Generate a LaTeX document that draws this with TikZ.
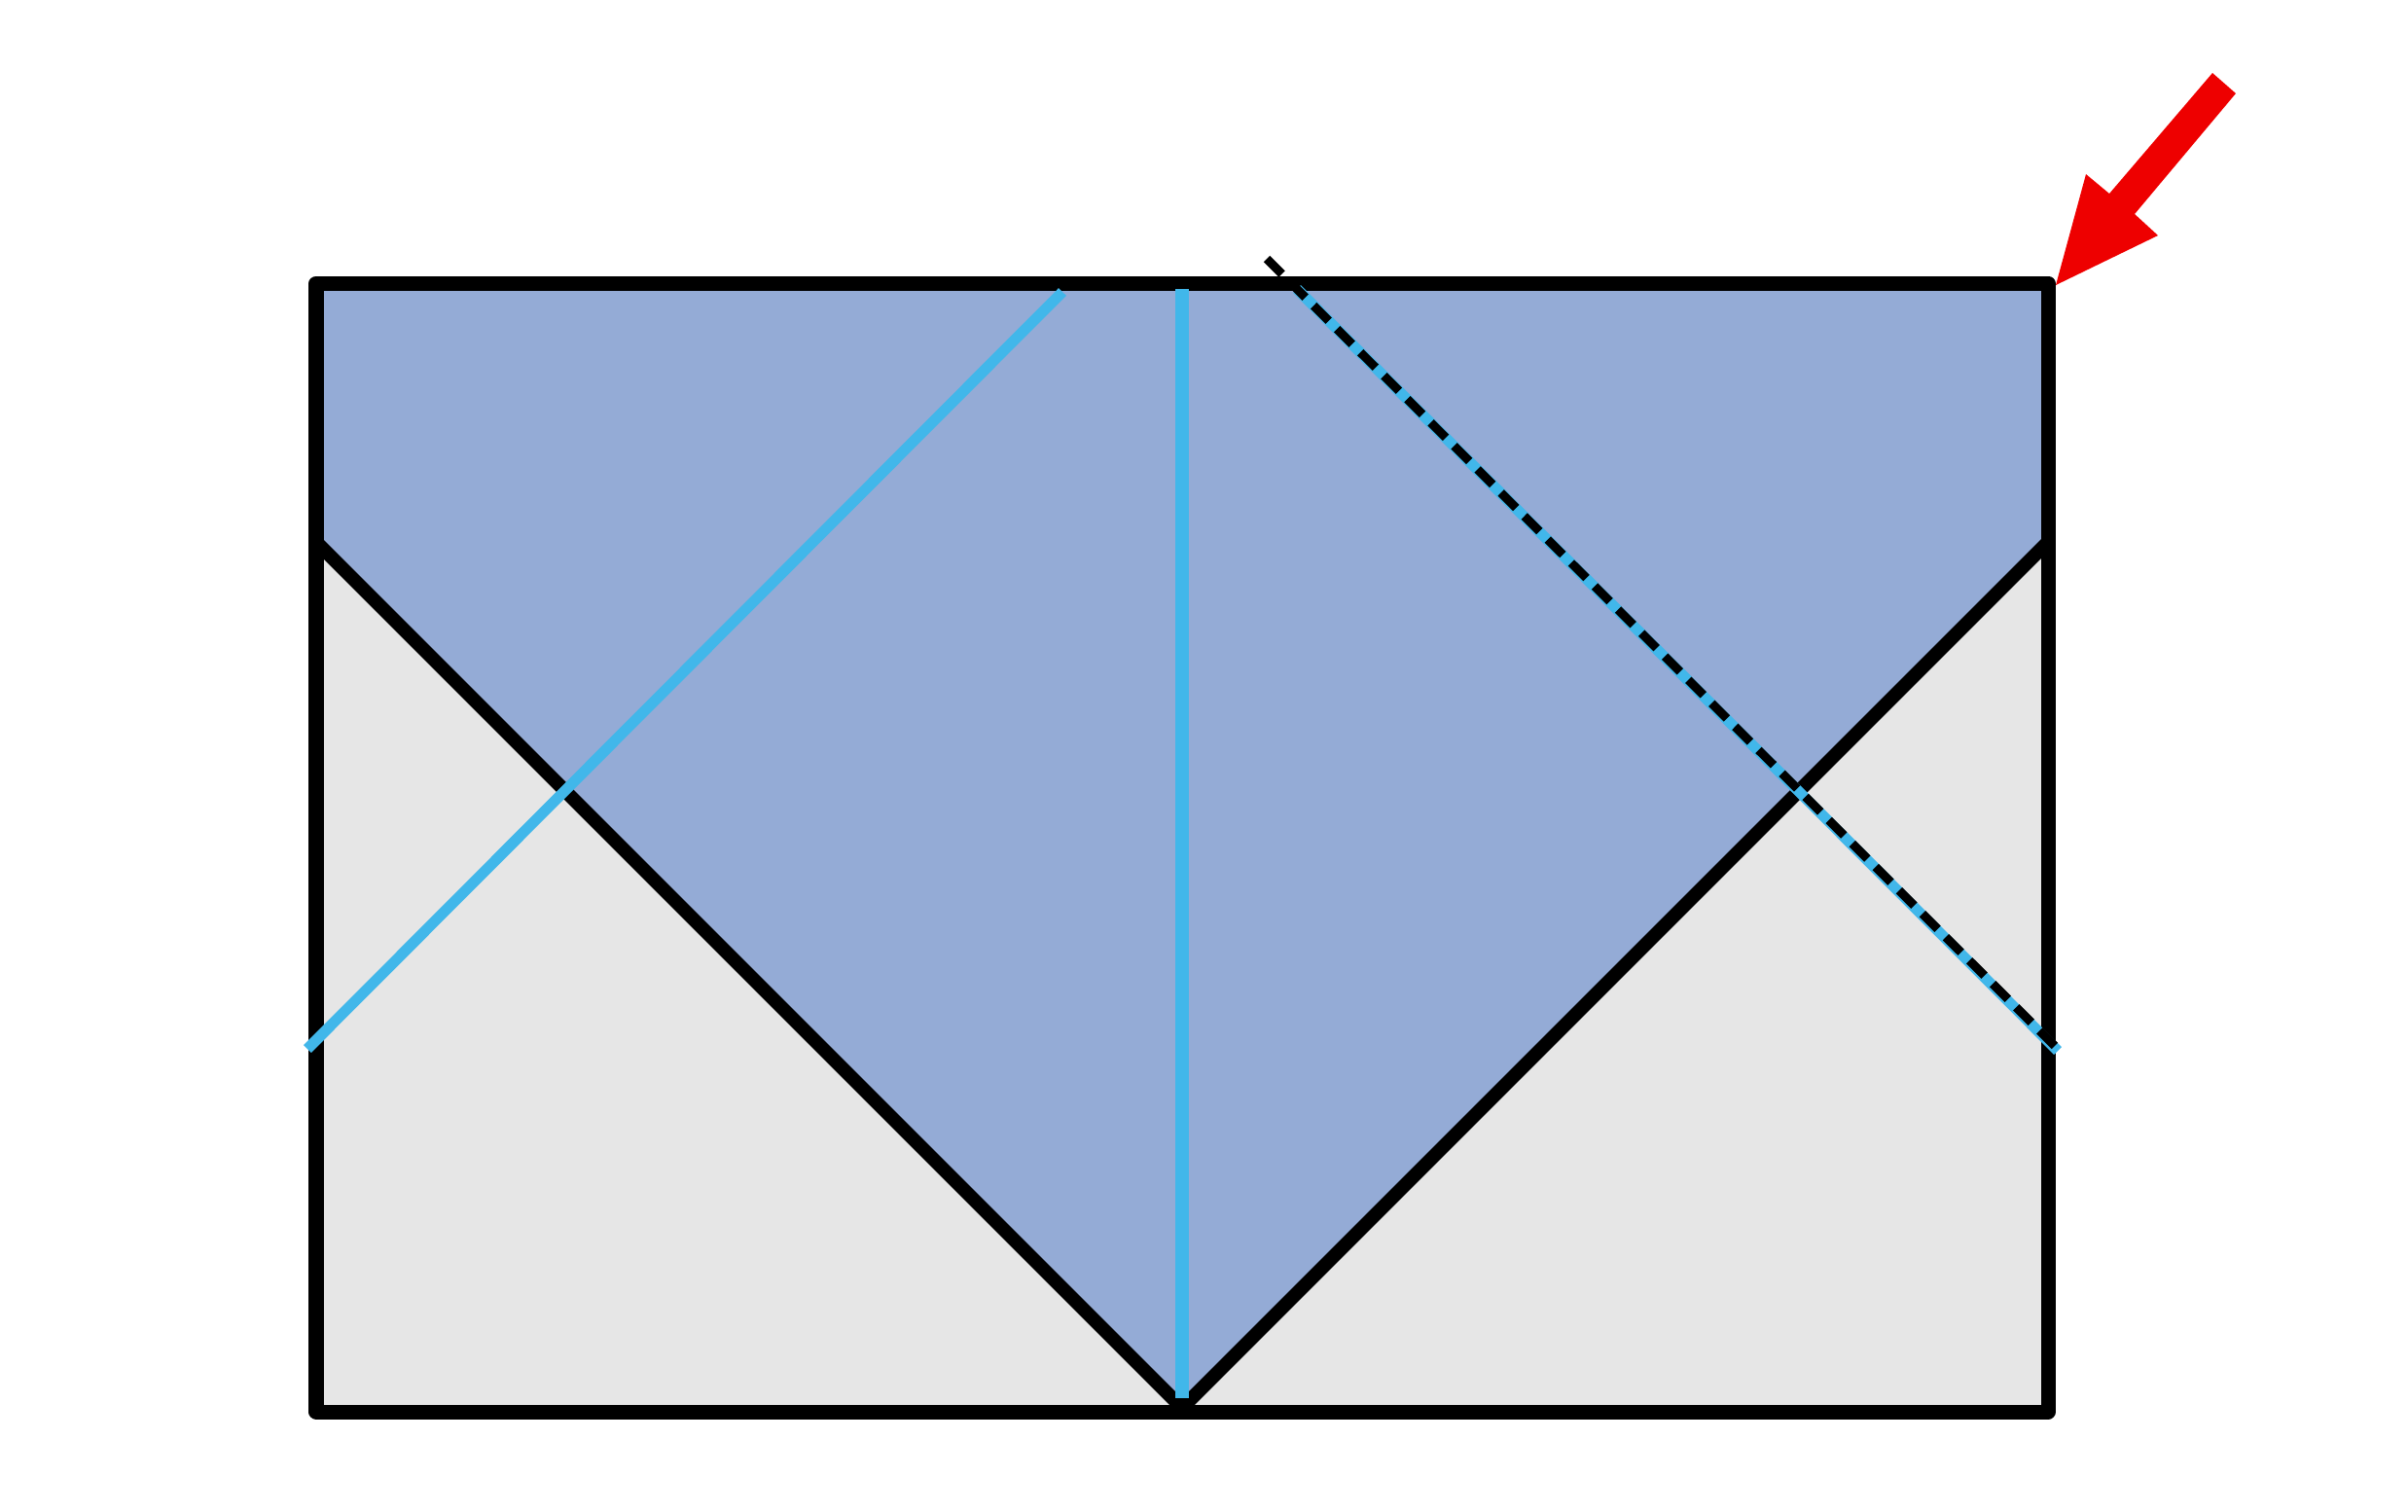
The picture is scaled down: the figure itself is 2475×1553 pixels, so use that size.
\documentclass[tikz,border=0pt]{standalone}
\definecolor{fillblue}{RGB}{148,171,214}
\definecolor{fillgrey}{RGB}{230,230,230}
\definecolor{lineblue}{RGB}{65,183,234}
\definecolor{arrowred}{RGB}{238,0,0}
\tikzset{
  frame/.style={draw=black,line width=0.15cm,line join=round},
  vline/.style={draw=black,line width=0.14cm},
  blueline/.style={draw=lineblue,line width=0.11cm},
  bluevert/.style={draw=lineblue,line width=0.14cm},
  dashline/.style={draw=black,line width=0.09cm,dash pattern=on 0.22cm off 0.12cm},
}
\begin{document}
\begin{tikzpicture}[x=0.01cm,y=-0.01cm]
\useasboundingbox (0,0) rectangle (2475,1553);
% corners
\coordinate (TL) at (325,291);
\coordinate (TR) at (2105,291);
\coordinate (BR) at (2105,1451);
\coordinate (BL) at (325,1451);
\coordinate (ML) at (325,557);
\coordinate (MR) at (2105,557);
\coordinate (V) at (1215,1447);
% fills
\fill[fillgrey] (TL) rectangle (BR);
\fill[fillblue] (TL) -- (TR) -- (MR) -- (V) -- (ML) -- cycle;
% V lines
\draw[vline] (ML) -- (V) -- (MR);
% frame
\draw[frame] (TL) rectangle (BR);
% light blue lines
\coordinate (A1) at (316,1078);
\coordinate (A2) at (1092,300);
\draw[blueline] (A1) -- (A2);
\coordinate (C1) at (1215,297);
\coordinate (C2) at (1215,1437);
\draw[bluevert] (C1) -- (C2);
\coordinate (D1) at (1333,297);
\coordinate (D2) at (2115,1080);
\draw[blueline] (D1) -- (D2);
% dashed black
\coordinate (E1) at (1302,266);
\coordinate (E2) at (2120,1083);
\draw[dashline] (E1) -- (E2);
% red arrow
\fill[arrowred] (2274,75) -- (2298,96) -- (2194,220) -- (2218,242) -- (2113,293) -- (2144,179) -- (2168,199) -- cycle;
\end{tikzpicture}
\end{document}
